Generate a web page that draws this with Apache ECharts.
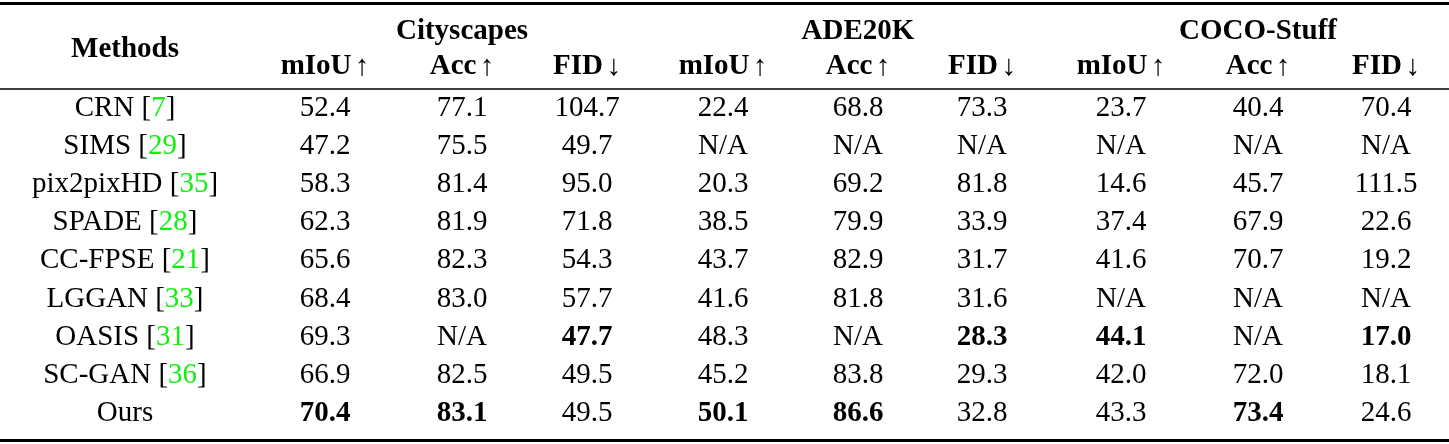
<!DOCTYPE html>
<html style="height: 100%">
<head>
    <meta charset="utf-8">
</head>
<body style="height: 100%; margin: 0; background: #fff">
<div id="container" style="width: 1449px; height: 444px"></div>
<script type="text/javascript" src="https://cdn.jsdelivr.net/npm/echarts@6/dist/echarts.min.js"></script>
<script type="text/javascript">
    // table data
    var methods = ['CRN', 'SIMS', 'pix2pixHD', 'SPADE', 'CC-FPSE', 'LGGAN', 'OASIS', 'SC-GAN', 'Ours'];
    var cites = ['7', '29', '35', '28', '21', '33', '31', '36', ''];
    var groups = ['Cityscapes', 'ADE20K', 'COCO-Stuff'];
    var metrics = ['mIoU', 'Acc', 'FID'];
    var arrows = ['↑', '↑', '↓'];
    var cityMiou = ['52.4', '47.2', '58.3', '62.3', '65.6', '68.4', '69.3', '66.9', '70.4'];
    var cityAcc = ['77.1', '75.5', '81.4', '81.9', '82.3', '83.0', 'N/A', '82.5', '83.1'];
    var cityFid = ['104.7', '49.7', '95.0', '71.8', '54.3', '57.7', '47.7', '49.5', '49.5'];
    var adeMiou = ['22.4', 'N/A', '20.3', '38.5', '43.7', '41.6', '48.3', '45.2', '50.1'];
    var adeAcc = ['68.8', 'N/A', '69.2', '79.9', '82.9', '81.8', 'N/A', '83.8', '86.6'];
    var adeFid = ['73.3', 'N/A', '81.8', '33.9', '31.7', '31.6', '28.3', '29.3', '32.8'];
    var cocoMiou = ['23.7', 'N/A', '14.6', '37.4', '41.6', 'N/A', '44.1', '42.0', '43.3'];
    var cocoAcc = ['40.4', 'N/A', '45.7', '67.9', '70.7', 'N/A', 'N/A', '72.0', '73.4'];
    var cocoFid = ['70.4', 'N/A', '111.5', '22.6', '19.2', 'N/A', '17.0', '18.1', '24.6'];
    // bold cells: [row, column]
    var boldCells = [[6, 2], [6, 5], [6, 6], [6, 8], [8, 0], [8, 1], [8, 3], [8, 4], [8, 7]];

    // layout
    var COL_X = [325, 462, 587, 723, 858, 982, 1121, 1258, 1386];
    var METHOD_X = 125;
    var ROW_Y0 = 108, ROW_STEP = 38.2;
    var FONT = '"Liberation Serif", "Times New Roman", serif';

    var columns = [cityMiou, cityAcc, cityFid, adeMiou, adeAcc, adeFid, cocoMiou, cocoAcc, cocoFid];

    function isBold(r, c) {
        return boldCells.some(function (b) { return b[0] === r && b[1] === c; });
    }

    var items = [];
    // header rows
    items.push({value: [METHOD_X, 50], label: {formatter: '{b|Methods}'}});
    groups.forEach(function (g, i) {
        items.push({value: [COL_X[i * 3 + 1], 32], label: {formatter: '{b|' + g + '}'}});
    });
    COL_X.forEach(function (x, c) {
        items.push({value: [x, 67], label: {formatter: '{b|' + metrics[c % 3] + '} {a|' + arrows[c % 3] + '}'}});
    });
    // body
    methods.forEach(function (m, r) {
        var y = ROW_Y0 + r * ROW_STEP;
        var f = cites[r] ? '{n|' + m + ' [}{g|' + cites[r] + '}{n|]}' : '{n|' + m + '}';
        items.push({value: [METHOD_X, y], label: {formatter: f}});
        columns.forEach(function (col, c) {
            var s = col[r];
            items.push({value: [COL_X[c], y], label: {formatter: isBold(r, c) ? '{b|' + s + '}' : '{n|' + s + '}'}});
        });
    });

    var myChart = echarts.init(document.getElementById('container'));
    var option = {
        animation: false,
        grid: {left: 0, right: 0, top: 0, bottom: 0},
        xAxis: {type: 'value', min: 0, max: 1449, show: false},
        yAxis: {type: 'value', min: 0, max: 444, inverse: true, show: false},
        series: [{
            type: 'scatter',
            symbolSize: 0,
            silent: true,
            itemStyle: {opacity: 1},
            data: items,
            label: {
                show: true,
                position: 'inside',
                color: '#000',
                textBorderWidth: 0,
                rich: {
                    n: {fontFamily: FONT, fontSize: 29, color: '#000'},
                    b: {fontFamily: FONT, fontSize: 29, fontWeight: 'bold', color: '#000'},
                    a: {fontFamily: FONT, fontSize: 29, color: '#000'},
                    g: {fontFamily: FONT, fontSize: 29, color: '#11ee11'}
                }
            },
            markLine: {
                silent: true,
                symbol: 'none',
                label: {show: false},
                data: [
                    {yAxis: 3, lineStyle: {color: '#000', width: 3, type: 'solid', opacity: 1}},
                    {yAxis: 89, lineStyle: {color: '#000', width: 1.5, type: 'solid', opacity: 1}},
                    {yAxis: 440, lineStyle: {color: '#000', width: 3, type: 'solid', opacity: 1}}
                ]
            }
        }]
    };
    myChart.setOption(option);
</script>
</body>
</html>
